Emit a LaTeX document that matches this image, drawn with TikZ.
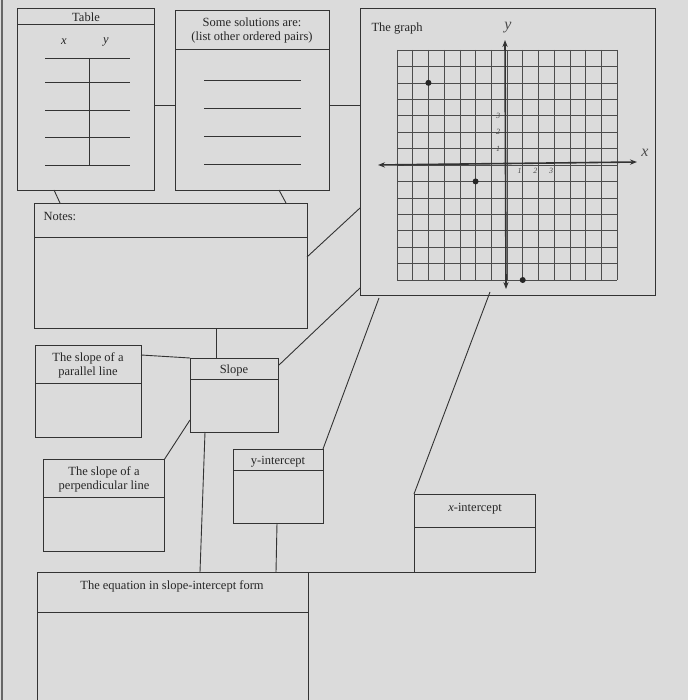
\documentclass[tikz,border=0pt]{standalone}
\usepackage{fontspec}
\setmainfont{Liberation Serif}
\usetikzlibrary{arrows.meta}
\begin{document}
\begin{tikzpicture}[x=1pt,y=-1pt,
  box/.style={draw=black!80,line width=0.9pt,inner sep=0pt,anchor=north west},
  con/.style={draw=black!80,line width=0.9pt},
  lbl/.style={font=\fontsize{12.5}{14}\selectfont,text=black!85,align=center},
  gl/.style={draw=black!70,line width=0.7pt},
  hand/.style={font=\fontsize{8}{8}\itshape,text=black!70}]
\fill[black!14] (0,0) rectangle (688,700);
\useasboundingbox (0,0) rectangle (688,700);
\draw[black!60,line width=2pt] (2,0) -- (2,700);
\newcommand\bx[6]{\node[box,minimum width=#4-#2,minimum height=#5-#3] (#1) at (#2,#3) {};
  \draw[con] (#2,#6) -- (#4,#6);}
\bx{table}{17}{8}{154}{190}{24}
\node[lbl] at (86,17) {Table};
\node[lbl,font=\fontsize{12.5}{14}\itshape] at (64,42) {x};
\node[lbl,font=\fontsize{12.5}{14}\itshape] at (106,42) {y};
\foreach \yy in {58,82,110,137,165} \draw[con] (45,\yy) -- (130,\yy);
\draw[con] (89,58) -- (89,165);
\bx{sol}{175}{10}{329}{190}{49}
\node[lbl] at (252,30) {Some solutions are:\\(list other ordered pairs)};
\foreach \yy in {80,108,136,164} \draw[con] (204,\yy) -- (301,\yy);
\bx{graph}{360}{8}{655}{295}{8}
\node[lbl,anchor=west] at (368,29) {The graph};
\foreach \i in {0,...,14} {
  \draw[gl] ({397+\i*220/14},50) -- ({397+\i*220/14},280);
  \draw[gl] (397,{50+\i*230/14}) -- (617,{50+\i*230/14});}
\draw[line width=1.6pt,black!80,{Stealth[length=7pt]}-{Stealth[length=7pt]}] (378,165) -- (637,162);
\draw[line width=1.6pt,black!80,{Stealth[length=7pt]}-{Stealth[length=7pt]}] (505,40) -- (506,289);
\node[font=\fontsize{16}{16}\itshape,text=black!70] at (508,28) {y};
\node[font=\fontsize{16}{16}\itshape,text=black!70] at (645,153) {x};
\foreach \k/\ll in {1/1,2/2,3/3} {
  \node[hand] at (498,{165-\k*16.43}) {\ll};
  \node[hand] at ({507+\k*15.7-3},171) {\ll};}
\foreach \px/\py in {-5/5,-2/-1,1/-7}
  \fill[black!85] ({507+\px*15.714},{165-\py*16.43}) circle (3pt);
\bx{notes}{34}{203}{307}{328}{237}
\node[lbl,anchor=west] at (40,216) {Notes:};
\bx{par}{35}{345}{141}{437}{383}
\node[lbl] at (88,365) {The slope of a\\parallel line};
\bx{slope}{190}{358}{278}{432}{379}
\node[lbl] at (234,370) {Slope};
\bx{perp}{43}{459}{164}{551}{497}
\node[lbl] at (104,479) {The slope of a\\perpendicular line};
\bx{yint}{233}{449}{323}{523}{470}
\node[lbl] at (278,462) {y-intercept};
\bx{xint}{414}{494}{535}{572}{527}
\node[lbl] at (475,509) {\itshape x\upshape-intercept};
\bx{eq}{37}{572}{308}{720}{612}
\node[lbl] at (172,586) {The equation in slope-intercept form};
\draw[con] (table.east |- 0,105) -- (sol.west |- 0,105);
\draw[con] (sol.east |- 0,105) -- (graph.west |- 0,105);
\draw[con] (54,190) -- (60,203);
\draw[con] (279,190) -- (286,203);
\draw[con] (307,257) -- (360,208);
\draw[con] (279,365) -- (360,288);
\draw[con] (216,328) -- (216,358);
\draw[con] (141,355) -- (190,358);
\draw[con] (190,420) -- (164,460);
\draw[con] (205,432) -- (200,572);
\draw[con] (277,523) -- (276,572);
\draw[con] (379,298) -- (323,449);
\draw[con] (490,292) -- (414,494);
\draw[con] (308,572) -- (414,572);
\end{tikzpicture}
\end{document}
